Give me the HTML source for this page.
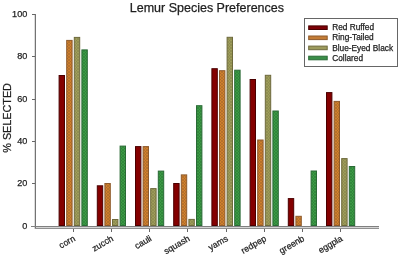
<!DOCTYPE html>
<html><head><meta charset="utf-8"><style>
html,body{margin:0;padding:0;background:#fff;}
svg{display:block;}
text{font-family:"Liberation Sans",Arial,sans-serif;fill:#1e1e1e;stroke:#1e1e1e;stroke-width:0.25px;}
.yl{font-size:9.1px;}
.xl{font-size:8.8px;}
.lg{font-size:8.3px;}
.ti{font-size:12.5px;}
.yt{font-size:10.8px;}
</style></head><body>
<svg width="400" height="256" viewBox="0 0 400 256">
<defs>
<pattern id="p0" patternUnits="userSpaceOnUse" width="3" height="3">
<rect width="3" height="3" fill="#840000"/>
<path d="M0,0L3,3M3,0L0,3" stroke="#840000" stroke-width="0.6"/>
</pattern><pattern id="p1" patternUnits="userSpaceOnUse" width="3" height="3">
<rect width="3" height="3" fill="#d0802c"/>
<path d="M0,0L3,3M3,0L0,3" stroke="#a4662c" stroke-width="0.6"/>
</pattern><pattern id="p2" patternUnits="userSpaceOnUse" width="3" height="3">
<rect width="3" height="3" fill="#9e9c5a"/>
<path d="M0,0L3,3M3,0L0,3" stroke="#84844c" stroke-width="0.6"/>
</pattern><pattern id="p3" patternUnits="userSpaceOnUse" width="3" height="3">
<rect width="3" height="3" fill="#3c9a45"/>
<path d="M0,0L3,3M3,0L0,3" stroke="#2b7c36" stroke-width="0.6"/>
</pattern>
</defs>
<rect width="400" height="256" fill="#fff"/>
<text x="206.9" y="12" text-anchor="middle" class="ti">Lemur Species Preferences</text>
<text transform="translate(10.7,117.9) rotate(-90)" text-anchor="middle" class="yt">% SELECTED</text>
<rect x="59.10" y="75.50" width="5.4" height="150.00" fill="url(#p0)" stroke="#4a0000" stroke-width="1"/><rect x="66.70" y="40.40" width="5.4" height="185.10" fill="url(#p1)" stroke="#8e5a2c" stroke-width="1"/><rect x="74.30" y="37.40" width="5.4" height="188.10" fill="url(#p2)" stroke="#6e6a3c" stroke-width="1"/><rect x="81.90" y="49.90" width="5.4" height="175.60" fill="url(#p3)" stroke="#2a6a36" stroke-width="1"/><rect x="97.30" y="185.80" width="5.4" height="39.70" fill="url(#p0)" stroke="#4a0000" stroke-width="1"/><rect x="104.90" y="183.50" width="5.4" height="42.00" fill="url(#p1)" stroke="#8e5a2c" stroke-width="1"/><rect x="112.50" y="219.50" width="5.4" height="6.00" fill="url(#p2)" stroke="#6e6a3c" stroke-width="1"/><rect x="120.10" y="146.10" width="5.4" height="79.40" fill="url(#p3)" stroke="#2a6a36" stroke-width="1"/><rect x="135.50" y="146.60" width="5.4" height="78.90" fill="url(#p0)" stroke="#4a0000" stroke-width="1"/><rect x="143.10" y="146.60" width="5.4" height="78.90" fill="url(#p1)" stroke="#8e5a2c" stroke-width="1"/><rect x="150.70" y="188.60" width="5.4" height="36.90" fill="url(#p2)" stroke="#6e6a3c" stroke-width="1"/><rect x="158.30" y="171.10" width="5.4" height="54.40" fill="url(#p3)" stroke="#2a6a36" stroke-width="1"/><rect x="173.70" y="183.50" width="5.4" height="42.00" fill="url(#p0)" stroke="#4a0000" stroke-width="1"/><rect x="181.30" y="174.90" width="5.4" height="50.60" fill="url(#p1)" stroke="#8e5a2c" stroke-width="1"/><rect x="188.90" y="219.40" width="5.4" height="6.10" fill="url(#p2)" stroke="#6e6a3c" stroke-width="1"/><rect x="196.50" y="105.70" width="5.4" height="119.80" fill="url(#p3)" stroke="#2a6a36" stroke-width="1"/><rect x="211.90" y="68.70" width="5.4" height="156.80" fill="url(#p0)" stroke="#4a0000" stroke-width="1"/><rect x="219.50" y="70.70" width="5.4" height="154.80" fill="url(#p1)" stroke="#8e5a2c" stroke-width="1"/><rect x="227.10" y="37.30" width="5.4" height="188.20" fill="url(#p2)" stroke="#6e6a3c" stroke-width="1"/><rect x="234.70" y="70.20" width="5.4" height="155.30" fill="url(#p3)" stroke="#2a6a36" stroke-width="1"/><rect x="250.10" y="79.50" width="5.4" height="146.00" fill="url(#p0)" stroke="#4a0000" stroke-width="1"/><rect x="257.70" y="140.00" width="5.4" height="85.50" fill="url(#p1)" stroke="#8e5a2c" stroke-width="1"/><rect x="265.30" y="75.30" width="5.4" height="150.20" fill="url(#p2)" stroke="#6e6a3c" stroke-width="1"/><rect x="272.90" y="111.00" width="5.4" height="114.50" fill="url(#p3)" stroke="#2a6a36" stroke-width="1"/><rect x="288.30" y="198.60" width="5.4" height="26.90" fill="url(#p0)" stroke="#4a0000" stroke-width="1"/><rect x="295.90" y="216.30" width="5.4" height="9.20" fill="url(#p1)" stroke="#8e5a2c" stroke-width="1"/><rect x="311.10" y="171.00" width="5.4" height="54.50" fill="url(#p3)" stroke="#2a6a36" stroke-width="1"/><rect x="326.50" y="92.60" width="5.4" height="132.90" fill="url(#p0)" stroke="#4a0000" stroke-width="1"/><rect x="334.10" y="101.40" width="5.4" height="124.10" fill="url(#p1)" stroke="#8e5a2c" stroke-width="1"/><rect x="341.70" y="158.60" width="5.4" height="66.90" fill="url(#p2)" stroke="#6e6a3c" stroke-width="1"/><rect x="349.30" y="166.50" width="5.4" height="59.00" fill="url(#p3)" stroke="#2a6a36" stroke-width="1"/>
<g stroke="#666" stroke-width="1" fill="none" shape-rendering="crispEdges">
<line x1="34.5" y1="14" x2="34.5" y2="229" stroke="#dcdcdc"/><line x1="35" y1="227.5" x2="379" y2="227.5" stroke="#d4d4d4"/><line x1="32" y1="226.5" x2="35" y2="226.5"/><line x1="32" y1="183.5" x2="35" y2="183.5"/><line x1="32" y1="141.5" x2="35" y2="141.5"/><line x1="32" y1="99.5" x2="35" y2="99.5"/><line x1="32" y1="56.5" x2="35" y2="56.5"/><line x1="32" y1="14.5" x2="35" y2="14.5"/><line x1="35.5" y1="14" x2="35.5" y2="229" stroke="#737373"/><line x1="31" y1="226.5" x2="379" y2="226.5" stroke="#808080"/><line x1="35" y1="228.5" x2="379" y2="228.5" stroke="#909090"/><line x1="73.5" y1="229" x2="73.5" y2="232"/><line x1="111.5" y1="229" x2="111.5" y2="232"/><line x1="149.5" y1="229" x2="149.5" y2="232"/><line x1="187.5" y1="229" x2="187.5" y2="232"/><line x1="226.5" y1="229" x2="226.5" y2="232"/><line x1="264.5" y1="229" x2="264.5" y2="232"/><line x1="302.5" y1="229" x2="302.5" y2="232"/><line x1="340.5" y1="229" x2="340.5" y2="232"/>
</g>
<text x="27.3" y="229.10" text-anchor="end" class="yl">0</text><text x="27.3" y="186.10" text-anchor="end" class="yl">20</text><text x="27.3" y="144.10" text-anchor="end" class="yl">40</text><text x="27.3" y="102.10" text-anchor="end" class="yl">60</text><text x="27.3" y="59.10" text-anchor="end" class="yl">80</text><text x="27.3" y="17.10" text-anchor="end" class="yl">100</text><text transform="translate(75.90,240.2) rotate(-30)" text-anchor="end" class="xl">corn</text><text transform="translate(114.10,240.2) rotate(-30)" text-anchor="end" class="xl">zucch</text><text transform="translate(152.30,240.2) rotate(-30)" text-anchor="end" class="xl">cauli</text><text transform="translate(190.50,240.2) rotate(-30)" text-anchor="end" class="xl">squash</text><text transform="translate(228.70,240.2) rotate(-30)" text-anchor="end" class="xl">yams</text><text transform="translate(266.90,240.2) rotate(-30)" text-anchor="end" class="xl">redpep</text><text transform="translate(305.10,240.2) rotate(-30)" text-anchor="end" class="xl">greenb</text><text transform="translate(343.30,240.2) rotate(-30)" text-anchor="end" class="xl">eggpla</text>
<rect x="304.5" y="18.5" width="93" height="48" fill="none" stroke="#666" stroke-width="1"/>
<rect x="308.7" y="25.90" width="18.5" height="3.6" fill="#7c0006" stroke="#4a0000" stroke-width="1"/><text x="332.2" y="30.35" class="lg">Red Ruffed</text><rect x="308.7" y="36.00" width="18.5" height="3.6" fill="#c27c36" stroke="#8e5a2c" stroke-width="1"/><text x="332.2" y="40.45" class="lg">Ring-Tailed</text><rect x="308.7" y="46.10" width="18.5" height="3.6" fill="#9c9a5c" stroke="#6e6a3c" stroke-width="1"/><text x="332.2" y="50.55" class="lg">Blue-Eyed Black</text><rect x="308.7" y="56.20" width="18.5" height="3.6" fill="#3a8e48" stroke="#2a6a36" stroke-width="1"/><text x="332.2" y="60.65" class="lg">Collared</text>
</svg>
</body></html>
